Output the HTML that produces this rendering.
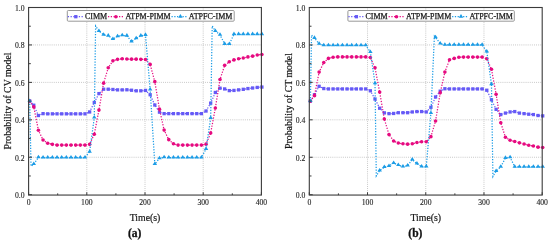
<!DOCTYPE html>
<html><head><meta charset="utf-8"><style>
html,body{margin:0;padding:0;background:#fff;}
svg{display:block;}
text{font-family:"Liberation Serif","Times New Roman",serif;fill:#222;}
.tl{font-size:7.7px;fill:#2a2a2a;stroke:#2a2a2a;stroke-width:0.14px;}
.lg{font-size:8px;fill:#1a1a1a;stroke:#1a1a1a;stroke-width:0.25px;}
.at{font-size:9.8px;fill:#161616;stroke:#161616;stroke-width:0.2px;}
.sub{font-size:11.5px;font-weight:bold;fill:#111;stroke:#111;stroke-width:0.3px;}
</style></head><body>
<svg width="550" height="242" viewBox="0 0 550 242">
<rect width="550" height="242" fill="#fff"/>
<g stroke="#bcbcbc" stroke-width="0.9" stroke-dasharray="0.9 1.2"><line x1="86.80" y1="7.50" x2="86.80" y2="194.70"/><line x1="145.00" y1="7.50" x2="145.00" y2="194.70"/><line x1="203.20" y1="7.50" x2="203.20" y2="194.70"/><line x1="28.60" y1="157.26" x2="261.40" y2="157.26"/><line x1="28.60" y1="119.82" x2="261.40" y2="119.82"/><line x1="28.60" y1="82.38" x2="261.40" y2="82.38"/><line x1="28.60" y1="44.94" x2="261.40" y2="44.94"/></g>
<polyline points="29.70,101.10 33.76,105.22 38.41,115.51 43.07,113.64 47.72,113.83 52.38,113.83 57.04,113.83 61.69,113.83 66.35,113.83 71.00,113.83 75.66,113.83 80.32,113.83 84.97,113.83 89.63,111.96 94.28,102.50 98.94,93.61 103.60,89.21 108.25,89.21 112.91,89.49 117.56,89.87 122.22,89.87 126.88,89.77 131.53,90.24 136.19,90.80 140.84,90.80 145.50,90.43 150.16,94.74 154.81,105.03 159.47,112.14 164.12,113.64 168.78,113.64 173.44,113.64 178.09,113.64 182.75,113.64 187.40,113.64 192.06,113.64 196.72,113.64 201.37,113.64 206.03,111.02 210.68,103.16 215.34,92.49 220.00,88.18 224.65,88.93 229.31,90.62 233.96,90.43 238.62,89.87 243.28,89.31 247.93,88.56 252.59,88.00 257.24,87.43 261.90,87.06" fill="none" stroke="#6559f6" stroke-width="1.25" stroke-dasharray="1.25 1.5"/>
<g fill="#6559f6"><rect x="28.05" y="99.45" width="3.3" height="3.3"/><rect x="32.11" y="103.57" width="3.3" height="3.3"/><rect x="36.76" y="113.86" width="3.3" height="3.3"/><rect x="41.42" y="111.99" width="3.3" height="3.3"/><rect x="46.07" y="112.18" width="3.3" height="3.3"/><rect x="50.73" y="112.18" width="3.3" height="3.3"/><rect x="55.39" y="112.18" width="3.3" height="3.3"/><rect x="60.04" y="112.18" width="3.3" height="3.3"/><rect x="64.70" y="112.18" width="3.3" height="3.3"/><rect x="69.35" y="112.18" width="3.3" height="3.3"/><rect x="74.01" y="112.18" width="3.3" height="3.3"/><rect x="78.67" y="112.18" width="3.3" height="3.3"/><rect x="83.32" y="112.18" width="3.3" height="3.3"/><rect x="87.98" y="110.31" width="3.3" height="3.3"/><rect x="92.63" y="100.85" width="3.3" height="3.3"/><rect x="97.29" y="91.96" width="3.3" height="3.3"/><rect x="101.95" y="87.56" width="3.3" height="3.3"/><rect x="106.60" y="87.56" width="3.3" height="3.3"/><rect x="111.26" y="87.84" width="3.3" height="3.3"/><rect x="115.91" y="88.22" width="3.3" height="3.3"/><rect x="120.57" y="88.22" width="3.3" height="3.3"/><rect x="125.23" y="88.12" width="3.3" height="3.3"/><rect x="129.88" y="88.59" width="3.3" height="3.3"/><rect x="134.54" y="89.15" width="3.3" height="3.3"/><rect x="139.19" y="89.15" width="3.3" height="3.3"/><rect x="143.85" y="88.78" width="3.3" height="3.3"/><rect x="148.51" y="93.09" width="3.3" height="3.3"/><rect x="153.16" y="103.38" width="3.3" height="3.3"/><rect x="157.82" y="110.49" width="3.3" height="3.3"/><rect x="162.47" y="111.99" width="3.3" height="3.3"/><rect x="167.13" y="111.99" width="3.3" height="3.3"/><rect x="171.79" y="111.99" width="3.3" height="3.3"/><rect x="176.44" y="111.99" width="3.3" height="3.3"/><rect x="181.10" y="111.99" width="3.3" height="3.3"/><rect x="185.75" y="111.99" width="3.3" height="3.3"/><rect x="190.41" y="111.99" width="3.3" height="3.3"/><rect x="195.07" y="111.99" width="3.3" height="3.3"/><rect x="199.72" y="111.99" width="3.3" height="3.3"/><rect x="204.38" y="109.37" width="3.3" height="3.3"/><rect x="209.03" y="101.51" width="3.3" height="3.3"/><rect x="213.69" y="90.84" width="3.3" height="3.3"/><rect x="218.35" y="86.53" width="3.3" height="3.3"/><rect x="223.00" y="87.28" width="3.3" height="3.3"/><rect x="227.66" y="88.97" width="3.3" height="3.3"/><rect x="232.31" y="88.78" width="3.3" height="3.3"/><rect x="236.97" y="88.22" width="3.3" height="3.3"/><rect x="241.63" y="87.66" width="3.3" height="3.3"/><rect x="246.28" y="86.91" width="3.3" height="3.3"/><rect x="250.94" y="86.35" width="3.3" height="3.3"/><rect x="255.59" y="85.78" width="3.3" height="3.3"/><rect x="260.25" y="85.41" width="3.3" height="3.3"/></g>
<polyline points="29.70,101.10 33.76,106.90 38.41,130.30 43.07,140.04 47.72,143.22 52.38,144.34 57.04,145.09 61.69,145.09 66.35,145.09 71.00,145.09 75.66,145.09 80.32,145.09 84.97,145.09 89.63,144.34 94.28,134.23 98.94,110.09 103.60,83.13 108.25,67.78 112.91,60.85 117.56,59.35 122.22,58.79 126.88,58.98 131.53,59.17 136.19,59.17 140.84,59.35 145.50,59.54 150.16,64.41 154.81,81.63 159.47,109.15 164.12,130.12 168.78,139.66 173.44,143.78 178.09,145.09 182.75,145.09 187.40,145.09 192.06,145.09 196.72,145.09 201.37,145.09 206.03,144.16 210.68,133.11 215.34,108.03 220.00,79.57 224.65,65.34 229.31,61.79 233.96,59.92 238.62,58.79 243.28,58.04 247.93,56.92 252.59,56.17 257.24,55.05 261.90,54.49" fill="none" stroke="#e60a80" stroke-width="1.25" stroke-dasharray="1.25 1.5"/>
<g fill="#e60a80"><circle cx="29.70" cy="101.10" r="1.8"/><circle cx="33.76" cy="106.90" r="1.8"/><circle cx="38.41" cy="130.30" r="1.8"/><circle cx="43.07" cy="140.04" r="1.8"/><circle cx="47.72" cy="143.22" r="1.8"/><circle cx="52.38" cy="144.34" r="1.8"/><circle cx="57.04" cy="145.09" r="1.8"/><circle cx="61.69" cy="145.09" r="1.8"/><circle cx="66.35" cy="145.09" r="1.8"/><circle cx="71.00" cy="145.09" r="1.8"/><circle cx="75.66" cy="145.09" r="1.8"/><circle cx="80.32" cy="145.09" r="1.8"/><circle cx="84.97" cy="145.09" r="1.8"/><circle cx="89.63" cy="144.34" r="1.8"/><circle cx="94.28" cy="134.23" r="1.8"/><circle cx="98.94" cy="110.09" r="1.8"/><circle cx="103.60" cy="83.13" r="1.8"/><circle cx="108.25" cy="67.78" r="1.8"/><circle cx="112.91" cy="60.85" r="1.8"/><circle cx="117.56" cy="59.35" r="1.8"/><circle cx="122.22" cy="58.79" r="1.8"/><circle cx="126.88" cy="58.98" r="1.8"/><circle cx="131.53" cy="59.17" r="1.8"/><circle cx="136.19" cy="59.17" r="1.8"/><circle cx="140.84" cy="59.35" r="1.8"/><circle cx="145.50" cy="59.54" r="1.8"/><circle cx="150.16" cy="64.41" r="1.8"/><circle cx="154.81" cy="81.63" r="1.8"/><circle cx="159.47" cy="109.15" r="1.8"/><circle cx="164.12" cy="130.12" r="1.8"/><circle cx="168.78" cy="139.66" r="1.8"/><circle cx="173.44" cy="143.78" r="1.8"/><circle cx="178.09" cy="145.09" r="1.8"/><circle cx="182.75" cy="145.09" r="1.8"/><circle cx="187.40" cy="145.09" r="1.8"/><circle cx="192.06" cy="145.09" r="1.8"/><circle cx="196.72" cy="145.09" r="1.8"/><circle cx="201.37" cy="145.09" r="1.8"/><circle cx="206.03" cy="144.16" r="1.8"/><circle cx="210.68" cy="133.11" r="1.8"/><circle cx="215.34" cy="108.03" r="1.8"/><circle cx="220.00" cy="79.57" r="1.8"/><circle cx="224.65" cy="65.34" r="1.8"/><circle cx="229.31" cy="61.79" r="1.8"/><circle cx="233.96" cy="59.92" r="1.8"/><circle cx="238.62" cy="58.79" r="1.8"/><circle cx="243.28" cy="58.04" r="1.8"/><circle cx="247.93" cy="56.92" r="1.8"/><circle cx="252.59" cy="56.17" r="1.8"/><circle cx="257.24" cy="55.05" r="1.8"/><circle cx="261.90" cy="54.49" r="1.8"/></g>
<polyline points="29.70,101.10 31.02,166.25 33.76,164.19 38.41,157.45 43.07,157.54 47.72,157.54 52.38,157.54 57.04,157.54 61.69,157.54 66.35,157.54 71.00,157.54 75.66,157.54 80.32,157.54 84.97,157.54 89.63,151.83 94.28,117.57 95.62,26.03 98.94,31.09 103.60,34.83 108.25,35.77 112.91,39.14 117.56,36.33 122.22,35.39 126.88,35.77 131.53,41.57 136.19,38.39 140.84,35.77 145.50,35.02 150.16,89.68 154.81,164.19 159.47,158.38 164.12,157.45 168.78,157.54 173.44,157.54 178.09,157.54 182.75,157.54 187.40,157.54 192.06,157.54 196.72,157.54 201.37,157.54 206.03,149.02 210.68,118.14 212.20,25.85 215.34,31.09 220.00,34.83 224.65,44.00 229.31,44.19 233.96,34.27 238.62,34.27 243.28,34.27 247.93,34.27 252.59,34.27 257.24,34.27 261.90,34.27" fill="none" stroke="#1b9ce6" stroke-width="1.25" stroke-dasharray="1.25 1.5"/>
<g fill="#1b9ce6"><path d="M29.70 98.45L31.95 102.00L27.45 102.00Z"/><path d="M33.76 161.54L36.01 165.09L31.51 165.09Z"/><path d="M38.41 154.80L40.66 158.35L36.16 158.35Z"/><path d="M43.07 154.89L45.32 158.44L40.82 158.44Z"/><path d="M47.72 154.89L49.97 158.44L45.47 158.44Z"/><path d="M52.38 154.89L54.63 158.44L50.13 158.44Z"/><path d="M57.04 154.89L59.29 158.44L54.79 158.44Z"/><path d="M61.69 154.89L63.94 158.44L59.44 158.44Z"/><path d="M66.35 154.89L68.60 158.44L64.10 158.44Z"/><path d="M71.00 154.89L73.25 158.44L68.75 158.44Z"/><path d="M75.66 154.89L77.91 158.44L73.41 158.44Z"/><path d="M80.32 154.89L82.57 158.44L78.07 158.44Z"/><path d="M84.97 154.89L87.22 158.44L82.72 158.44Z"/><path d="M89.63 149.18L91.88 152.73L87.38 152.73Z"/><path d="M94.28 114.92L96.53 118.47L92.03 118.47Z"/><path d="M98.94 28.44L101.19 31.99L96.69 31.99Z"/><path d="M103.60 32.18L105.85 35.73L101.35 35.73Z"/><path d="M108.25 33.12L110.50 36.67L106.00 36.67Z"/><path d="M112.91 36.49L115.16 40.04L110.66 40.04Z"/><path d="M117.56 33.68L119.81 37.23L115.31 37.23Z"/><path d="M122.22 32.74L124.47 36.29L119.97 36.29Z"/><path d="M126.88 33.12L129.13 36.67L124.63 36.67Z"/><path d="M131.53 38.92L133.78 42.47L129.28 42.47Z"/><path d="M136.19 35.74L138.44 39.29L133.94 39.29Z"/><path d="M140.84 33.12L143.09 36.67L138.59 36.67Z"/><path d="M145.50 32.37L147.75 35.92L143.25 35.92Z"/><path d="M150.16 87.03L152.41 90.58L147.91 90.58Z"/><path d="M154.81 161.54L157.06 165.09L152.56 165.09Z"/><path d="M159.47 155.73L161.72 159.28L157.22 159.28Z"/><path d="M164.12 154.80L166.37 158.35L161.87 158.35Z"/><path d="M168.78 154.89L171.03 158.44L166.53 158.44Z"/><path d="M173.44 154.89L175.69 158.44L171.19 158.44Z"/><path d="M178.09 154.89L180.34 158.44L175.84 158.44Z"/><path d="M182.75 154.89L185.00 158.44L180.50 158.44Z"/><path d="M187.40 154.89L189.65 158.44L185.15 158.44Z"/><path d="M192.06 154.89L194.31 158.44L189.81 158.44Z"/><path d="M196.72 154.89L198.97 158.44L194.47 158.44Z"/><path d="M201.37 154.89L203.62 158.44L199.12 158.44Z"/><path d="M206.03 146.37L208.28 149.92L203.78 149.92Z"/><path d="M210.68 115.49L212.93 119.04L208.43 119.04Z"/><path d="M215.34 28.44L217.59 31.99L213.09 31.99Z"/><path d="M220.00 32.18L222.25 35.73L217.75 35.73Z"/><path d="M224.65 41.35L226.90 44.90L222.40 44.90Z"/><path d="M229.31 41.54L231.56 45.09L227.06 45.09Z"/><path d="M233.96 31.62L236.21 35.17L231.71 35.17Z"/><path d="M238.62 31.62L240.87 35.17L236.37 35.17Z"/><path d="M243.28 31.62L245.53 35.17L241.03 35.17Z"/><path d="M247.93 31.62L250.18 35.17L245.68 35.17Z"/><path d="M252.59 31.62L254.84 35.17L250.34 35.17Z"/><path d="M257.24 31.62L259.49 35.17L254.99 35.17Z"/><path d="M261.90 31.62L264.15 35.17L259.65 35.17Z"/></g>
<rect x="67.30" y="10.50" width="166.90" height="10.70" rx="1" fill="#fff" stroke="#8c8c8c" stroke-width="0.9"/>
<line x1="67.80" y1="16.70" x2="83.10" y2="16.70" stroke="#6559f6" stroke-width="1.25" stroke-dasharray="1.25 1.5"/>
<rect x="74.15" y="15.05" width="3.3" height="3.3" fill="#6559f6"/>
<text x="84.90" y="19.40" class="lg">CIMM</text>
<line x1="108.00" y1="16.70" x2="123.50" y2="16.70" stroke="#e60a80" stroke-width="1.25" stroke-dasharray="1.25 1.5"/>
<circle cx="115.90" cy="16.70" r="1.8" fill="#e60a80"/>
<text x="125.40" y="19.40" class="lg">ATPM-PIMM</text>
<line x1="171.50" y1="16.70" x2="187.60" y2="16.70" stroke="#1b9ce6" stroke-width="1.25" stroke-dasharray="1.25 1.5"/>
<path d="M180.40 14.10L182.65 17.65L178.15 17.65Z" fill="#1b9ce6"/>
<text x="188.80" y="19.40" class="lg">ATPFC-IMM</text>
<rect x="28.60" y="7.50" width="232.80" height="187.55" fill="none" stroke="#3a3a3a" stroke-width="1.1"/>
<g stroke="#3a3a3a" stroke-width="1"><line x1="28.60" y1="195.05" x2="28.60" y2="192.25"/><line x1="57.70" y1="195.05" x2="57.70" y2="193.35"/><line x1="86.80" y1="195.05" x2="86.80" y2="192.25"/><line x1="115.90" y1="195.05" x2="115.90" y2="193.35"/><line x1="145.00" y1="195.05" x2="145.00" y2="192.25"/><line x1="174.10" y1="195.05" x2="174.10" y2="193.35"/><line x1="203.20" y1="195.05" x2="203.20" y2="192.25"/><line x1="232.30" y1="195.05" x2="232.30" y2="193.35"/><line x1="261.40" y1="195.05" x2="261.40" y2="192.25"/><line x1="28.60" y1="194.70" x2="32.00" y2="194.70"/><line x1="28.60" y1="175.98" x2="30.80" y2="175.98"/><line x1="28.60" y1="157.26" x2="32.00" y2="157.26"/><line x1="28.60" y1="138.54" x2="30.80" y2="138.54"/><line x1="28.60" y1="119.82" x2="32.00" y2="119.82"/><line x1="28.60" y1="101.10" x2="30.80" y2="101.10"/><line x1="28.60" y1="82.38" x2="32.00" y2="82.38"/><line x1="28.60" y1="63.66" x2="30.80" y2="63.66"/><line x1="28.60" y1="44.94" x2="32.00" y2="44.94"/><line x1="28.60" y1="26.22" x2="30.80" y2="26.22"/><line x1="28.60" y1="7.50" x2="32.00" y2="7.50"/></g>
<text x="28.60" y="205.10" class="tl" text-anchor="middle">0</text>
<text x="86.80" y="205.10" class="tl" text-anchor="middle">100</text>
<text x="145.00" y="205.10" class="tl" text-anchor="middle">200</text>
<text x="203.20" y="205.10" class="tl" text-anchor="middle">300</text>
<text x="261.40" y="205.10" class="tl" text-anchor="middle">400</text>
<text x="24.60" y="198.10" class="tl" text-anchor="end">0.0</text>
<text x="24.60" y="160.66" class="tl" text-anchor="end">0.2</text>
<text x="24.60" y="123.22" class="tl" text-anchor="end">0.4</text>
<text x="24.60" y="85.78" class="tl" text-anchor="end">0.6</text>
<text x="24.60" y="48.34" class="tl" text-anchor="end">0.8</text>
<text x="24.60" y="10.90" class="tl" text-anchor="end">1.0</text>
<text x="145.00" y="221.00" class="at" text-anchor="middle">Time(s)</text>
<text x="134.60" y="236.70" class="sub" text-anchor="middle">(a)</text>
<text transform="translate(10.80,101.00) rotate(-90)" class="at" text-anchor="middle">Probability of CV model</text>
<g stroke="#bcbcbc" stroke-width="0.9" stroke-dasharray="0.9 1.2"><line x1="367.53" y1="7.50" x2="367.53" y2="194.70"/><line x1="425.75" y1="7.50" x2="425.75" y2="194.70"/><line x1="483.98" y1="7.50" x2="483.98" y2="194.70"/><line x1="309.30" y1="157.26" x2="542.20" y2="157.26"/><line x1="309.30" y1="119.82" x2="542.20" y2="119.82"/><line x1="309.30" y1="82.38" x2="542.20" y2="82.38"/><line x1="309.30" y1="44.94" x2="542.20" y2="44.94"/></g>
<polyline points="310.40,101.10 314.46,94.74 319.12,86.31 323.77,88.56 328.43,88.93 333.09,88.93 337.75,88.93 342.41,88.93 347.06,88.93 351.72,88.93 356.38,88.93 361.04,88.93 365.70,88.93 370.35,90.80 375.01,99.04 379.67,108.21 384.33,112.89 388.99,113.64 393.64,113.46 398.30,112.71 402.96,112.71 407.62,112.71 412.28,111.96 416.93,111.58 421.59,111.58 426.25,111.96 430.91,107.28 435.57,96.98 440.22,91.18 444.88,88.74 449.54,88.93 454.20,88.93 458.86,88.93 463.51,88.93 468.17,88.93 472.83,88.93 477.49,88.93 482.15,88.93 486.80,90.24 491.46,99.79 496.12,109.34 500.78,114.58 505.44,113.08 510.09,111.96 514.75,111.58 519.41,113.08 524.07,113.64 528.73,114.20 533.38,114.58 538.04,115.51 542.70,115.89" fill="none" stroke="#6559f6" stroke-width="1.25" stroke-dasharray="1.25 1.5"/>
<g fill="#6559f6"><rect x="308.75" y="99.45" width="3.3" height="3.3"/><rect x="312.81" y="93.09" width="3.3" height="3.3"/><rect x="317.47" y="84.66" width="3.3" height="3.3"/><rect x="322.12" y="86.91" width="3.3" height="3.3"/><rect x="326.78" y="87.28" width="3.3" height="3.3"/><rect x="331.44" y="87.28" width="3.3" height="3.3"/><rect x="336.10" y="87.28" width="3.3" height="3.3"/><rect x="340.76" y="87.28" width="3.3" height="3.3"/><rect x="345.41" y="87.28" width="3.3" height="3.3"/><rect x="350.07" y="87.28" width="3.3" height="3.3"/><rect x="354.73" y="87.28" width="3.3" height="3.3"/><rect x="359.39" y="87.28" width="3.3" height="3.3"/><rect x="364.05" y="87.28" width="3.3" height="3.3"/><rect x="368.70" y="89.15" width="3.3" height="3.3"/><rect x="373.36" y="97.39" width="3.3" height="3.3"/><rect x="378.02" y="106.56" width="3.3" height="3.3"/><rect x="382.68" y="111.24" width="3.3" height="3.3"/><rect x="387.34" y="111.99" width="3.3" height="3.3"/><rect x="391.99" y="111.81" width="3.3" height="3.3"/><rect x="396.65" y="111.06" width="3.3" height="3.3"/><rect x="401.31" y="111.06" width="3.3" height="3.3"/><rect x="405.97" y="111.06" width="3.3" height="3.3"/><rect x="410.63" y="110.31" width="3.3" height="3.3"/><rect x="415.28" y="109.93" width="3.3" height="3.3"/><rect x="419.94" y="109.93" width="3.3" height="3.3"/><rect x="424.60" y="110.31" width="3.3" height="3.3"/><rect x="429.26" y="105.63" width="3.3" height="3.3"/><rect x="433.92" y="95.33" width="3.3" height="3.3"/><rect x="438.57" y="89.53" width="3.3" height="3.3"/><rect x="443.23" y="87.09" width="3.3" height="3.3"/><rect x="447.89" y="87.28" width="3.3" height="3.3"/><rect x="452.55" y="87.28" width="3.3" height="3.3"/><rect x="457.21" y="87.28" width="3.3" height="3.3"/><rect x="461.86" y="87.28" width="3.3" height="3.3"/><rect x="466.52" y="87.28" width="3.3" height="3.3"/><rect x="471.18" y="87.28" width="3.3" height="3.3"/><rect x="475.84" y="87.28" width="3.3" height="3.3"/><rect x="480.50" y="87.28" width="3.3" height="3.3"/><rect x="485.15" y="88.59" width="3.3" height="3.3"/><rect x="489.81" y="98.14" width="3.3" height="3.3"/><rect x="494.47" y="107.69" width="3.3" height="3.3"/><rect x="499.13" y="112.93" width="3.3" height="3.3"/><rect x="503.79" y="111.43" width="3.3" height="3.3"/><rect x="508.44" y="110.31" width="3.3" height="3.3"/><rect x="513.10" y="109.93" width="3.3" height="3.3"/><rect x="517.76" y="111.43" width="3.3" height="3.3"/><rect x="522.42" y="111.99" width="3.3" height="3.3"/><rect x="527.08" y="112.55" width="3.3" height="3.3"/><rect x="531.73" y="112.93" width="3.3" height="3.3"/><rect x="536.39" y="113.86" width="3.3" height="3.3"/><rect x="541.05" y="114.24" width="3.3" height="3.3"/></g>
<polyline points="310.40,101.10 314.46,95.67 319.12,72.08 323.77,62.54 328.43,58.42 333.09,57.30 337.75,56.92 342.41,56.92 347.06,56.92 351.72,56.92 356.38,56.92 361.04,56.92 365.70,56.92 370.35,57.48 375.01,67.78 379.67,92.11 384.33,119.07 388.99,134.61 393.64,140.97 398.30,143.03 402.96,143.78 407.62,144.16 412.28,143.78 416.93,142.47 421.59,141.72 426.25,141.72 430.91,136.67 435.57,120.94 440.22,92.86 444.88,72.08 449.54,59.73 454.20,58.42 458.86,57.30 463.51,57.11 468.17,57.11 472.83,57.11 477.49,57.11 482.15,57.11 486.80,58.79 491.46,69.28 496.12,94.36 500.78,122.82 505.44,137.23 510.09,140.22 514.75,141.54 519.41,142.85 524.07,143.97 528.73,145.28 533.38,146.03 538.04,147.15 542.70,147.53" fill="none" stroke="#e60a80" stroke-width="1.25" stroke-dasharray="1.25 1.5"/>
<g fill="#e60a80"><circle cx="310.40" cy="101.10" r="1.8"/><circle cx="314.46" cy="95.67" r="1.8"/><circle cx="319.12" cy="72.08" r="1.8"/><circle cx="323.77" cy="62.54" r="1.8"/><circle cx="328.43" cy="58.42" r="1.8"/><circle cx="333.09" cy="57.30" r="1.8"/><circle cx="337.75" cy="56.92" r="1.8"/><circle cx="342.41" cy="56.92" r="1.8"/><circle cx="347.06" cy="56.92" r="1.8"/><circle cx="351.72" cy="56.92" r="1.8"/><circle cx="356.38" cy="56.92" r="1.8"/><circle cx="361.04" cy="56.92" r="1.8"/><circle cx="365.70" cy="56.92" r="1.8"/><circle cx="370.35" cy="57.48" r="1.8"/><circle cx="375.01" cy="67.78" r="1.8"/><circle cx="379.67" cy="92.11" r="1.8"/><circle cx="384.33" cy="119.07" r="1.8"/><circle cx="388.99" cy="134.61" r="1.8"/><circle cx="393.64" cy="140.97" r="1.8"/><circle cx="398.30" cy="143.03" r="1.8"/><circle cx="402.96" cy="143.78" r="1.8"/><circle cx="407.62" cy="144.16" r="1.8"/><circle cx="412.28" cy="143.78" r="1.8"/><circle cx="416.93" cy="142.47" r="1.8"/><circle cx="421.59" cy="141.72" r="1.8"/><circle cx="426.25" cy="141.72" r="1.8"/><circle cx="430.91" cy="136.67" r="1.8"/><circle cx="435.57" cy="120.94" r="1.8"/><circle cx="440.22" cy="92.86" r="1.8"/><circle cx="444.88" cy="72.08" r="1.8"/><circle cx="449.54" cy="59.73" r="1.8"/><circle cx="454.20" cy="58.42" r="1.8"/><circle cx="458.86" cy="57.30" r="1.8"/><circle cx="463.51" cy="57.11" r="1.8"/><circle cx="468.17" cy="57.11" r="1.8"/><circle cx="472.83" cy="57.11" r="1.8"/><circle cx="477.49" cy="57.11" r="1.8"/><circle cx="482.15" cy="57.11" r="1.8"/><circle cx="486.80" cy="58.79" r="1.8"/><circle cx="491.46" cy="69.28" r="1.8"/><circle cx="496.12" cy="94.36" r="1.8"/><circle cx="500.78" cy="122.82" r="1.8"/><circle cx="505.44" cy="137.23" r="1.8"/><circle cx="510.09" cy="140.22" r="1.8"/><circle cx="514.75" cy="141.54" r="1.8"/><circle cx="519.41" cy="142.85" r="1.8"/><circle cx="524.07" cy="143.97" r="1.8"/><circle cx="528.73" cy="145.28" r="1.8"/><circle cx="533.38" cy="146.03" r="1.8"/><circle cx="538.04" cy="147.15" r="1.8"/><circle cx="542.70" cy="147.53" r="1.8"/></g>
<polyline points="310.40,101.10 311.55,35.21 314.46,38.01 319.12,43.82 323.77,45.31 328.43,45.31 333.09,45.31 337.75,45.31 342.41,45.31 347.06,45.31 351.72,45.31 356.38,45.31 361.04,45.31 365.70,45.31 370.35,52.05 375.01,83.32 376.29,175.98 379.67,170.55 384.33,167.18 388.99,166.06 393.64,163.06 398.30,165.12 402.96,166.62 407.62,165.68 412.28,159.69 416.93,163.62 421.59,166.62 426.25,166.62 430.91,113.08 434.40,36.14 435.57,37.45 440.22,43.63 444.88,44.94 449.54,44.94 454.20,44.94 458.86,44.94 463.51,44.94 468.17,44.94 472.83,44.94 477.49,44.94 482.15,44.94 486.80,51.68 491.46,84.25 492.92,176.54 496.12,171.11 500.78,166.81 505.44,158.01 510.09,157.45 514.75,166.81 519.41,166.81 524.07,166.81 528.73,166.81 533.38,166.81 538.04,166.81 542.70,166.81" fill="none" stroke="#1b9ce6" stroke-width="1.25" stroke-dasharray="1.25 1.5"/>
<g fill="#1b9ce6"><path d="M310.40 98.45L312.65 102.00L308.15 102.00Z"/><path d="M314.46 35.36L316.71 38.91L312.21 38.91Z"/><path d="M319.12 41.17L321.37 44.72L316.87 44.72Z"/><path d="M323.77 42.66L326.02 46.21L321.52 46.21Z"/><path d="M328.43 42.66L330.68 46.21L326.18 46.21Z"/><path d="M333.09 42.66L335.34 46.21L330.84 46.21Z"/><path d="M337.75 42.66L340.00 46.21L335.50 46.21Z"/><path d="M342.41 42.66L344.66 46.21L340.16 46.21Z"/><path d="M347.06 42.66L349.31 46.21L344.81 46.21Z"/><path d="M351.72 42.66L353.97 46.21L349.47 46.21Z"/><path d="M356.38 42.66L358.63 46.21L354.13 46.21Z"/><path d="M361.04 42.66L363.29 46.21L358.79 46.21Z"/><path d="M365.70 42.66L367.95 46.21L363.45 46.21Z"/><path d="M370.35 49.40L372.60 52.95L368.10 52.95Z"/><path d="M375.01 80.67L377.26 84.22L372.76 84.22Z"/><path d="M379.67 167.90L381.92 171.45L377.42 171.45Z"/><path d="M384.33 164.53L386.58 168.08L382.08 168.08Z"/><path d="M388.99 163.41L391.24 166.96L386.74 166.96Z"/><path d="M393.64 160.41L395.89 163.96L391.39 163.96Z"/><path d="M398.30 162.47L400.55 166.02L396.05 166.02Z"/><path d="M402.96 163.97L405.21 167.52L400.71 167.52Z"/><path d="M407.62 163.03L409.87 166.58L405.37 166.58Z"/><path d="M412.28 157.04L414.53 160.59L410.03 160.59Z"/><path d="M416.93 160.97L419.18 164.52L414.68 164.52Z"/><path d="M421.59 163.97L423.84 167.52L419.34 167.52Z"/><path d="M426.25 163.97L428.50 167.52L424.00 167.52Z"/><path d="M430.91 110.43L433.16 113.98L428.66 113.98Z"/><path d="M435.57 34.80L437.82 38.35L433.32 38.35Z"/><path d="M440.22 40.98L442.47 44.53L437.97 44.53Z"/><path d="M444.88 42.29L447.13 45.84L442.63 45.84Z"/><path d="M449.54 42.29L451.79 45.84L447.29 45.84Z"/><path d="M454.20 42.29L456.45 45.84L451.95 45.84Z"/><path d="M458.86 42.29L461.11 45.84L456.61 45.84Z"/><path d="M463.51 42.29L465.76 45.84L461.26 45.84Z"/><path d="M468.17 42.29L470.42 45.84L465.92 45.84Z"/><path d="M472.83 42.29L475.08 45.84L470.58 45.84Z"/><path d="M477.49 42.29L479.74 45.84L475.24 45.84Z"/><path d="M482.15 42.29L484.40 45.84L479.90 45.84Z"/><path d="M486.80 49.03L489.05 52.58L484.55 52.58Z"/><path d="M491.46 81.60L493.71 85.15L489.21 85.15Z"/><path d="M496.12 168.46L498.37 172.01L493.87 172.01Z"/><path d="M500.78 164.16L503.03 167.71L498.53 167.71Z"/><path d="M505.44 155.36L507.69 158.91L503.19 158.91Z"/><path d="M510.09 154.80L512.34 158.35L507.84 158.35Z"/><path d="M514.75 164.16L517.00 167.71L512.50 167.71Z"/><path d="M519.41 164.16L521.66 167.71L517.16 167.71Z"/><path d="M524.07 164.16L526.32 167.71L521.82 167.71Z"/><path d="M528.73 164.16L530.98 167.71L526.48 167.71Z"/><path d="M533.38 164.16L535.63 167.71L531.13 167.71Z"/><path d="M538.04 164.16L540.29 167.71L535.79 167.71Z"/><path d="M542.70 164.16L544.95 167.71L540.45 167.71Z"/></g>
<rect x="347.90" y="10.50" width="166.40" height="10.70" rx="1" fill="#fff" stroke="#8c8c8c" stroke-width="0.9"/>
<line x1="348.40" y1="16.70" x2="363.70" y2="16.70" stroke="#6559f6" stroke-width="1.25" stroke-dasharray="1.25 1.5"/>
<rect x="354.75" y="15.05" width="3.3" height="3.3" fill="#6559f6"/>
<text x="365.50" y="19.40" class="lg">CIMM</text>
<line x1="388.60" y1="16.70" x2="404.10" y2="16.70" stroke="#e60a80" stroke-width="1.25" stroke-dasharray="1.25 1.5"/>
<circle cx="396.50" cy="16.70" r="1.8" fill="#e60a80"/>
<text x="406.00" y="19.40" class="lg">ATPM-PIMM</text>
<line x1="452.10" y1="16.70" x2="468.20" y2="16.70" stroke="#1b9ce6" stroke-width="1.25" stroke-dasharray="1.25 1.5"/>
<path d="M461.00 14.10L463.25 17.65L458.75 17.65Z" fill="#1b9ce6"/>
<text x="469.40" y="19.40" class="lg">ATPFC-IMM</text>
<rect x="309.30" y="7.50" width="232.90" height="187.55" fill="none" stroke="#3a3a3a" stroke-width="1.1"/>
<g stroke="#3a3a3a" stroke-width="1"><line x1="309.30" y1="195.05" x2="309.30" y2="192.25"/><line x1="338.41" y1="195.05" x2="338.41" y2="193.35"/><line x1="367.53" y1="195.05" x2="367.53" y2="192.25"/><line x1="396.64" y1="195.05" x2="396.64" y2="193.35"/><line x1="425.75" y1="195.05" x2="425.75" y2="192.25"/><line x1="454.86" y1="195.05" x2="454.86" y2="193.35"/><line x1="483.98" y1="195.05" x2="483.98" y2="192.25"/><line x1="513.09" y1="195.05" x2="513.09" y2="193.35"/><line x1="542.20" y1="195.05" x2="542.20" y2="192.25"/><line x1="309.30" y1="194.70" x2="312.70" y2="194.70"/><line x1="309.30" y1="175.98" x2="311.50" y2="175.98"/><line x1="309.30" y1="157.26" x2="312.70" y2="157.26"/><line x1="309.30" y1="138.54" x2="311.50" y2="138.54"/><line x1="309.30" y1="119.82" x2="312.70" y2="119.82"/><line x1="309.30" y1="101.10" x2="311.50" y2="101.10"/><line x1="309.30" y1="82.38" x2="312.70" y2="82.38"/><line x1="309.30" y1="63.66" x2="311.50" y2="63.66"/><line x1="309.30" y1="44.94" x2="312.70" y2="44.94"/><line x1="309.30" y1="26.22" x2="311.50" y2="26.22"/><line x1="309.30" y1="7.50" x2="312.70" y2="7.50"/></g>
<text x="309.30" y="205.10" class="tl" text-anchor="middle">0</text>
<text x="367.53" y="205.10" class="tl" text-anchor="middle">100</text>
<text x="425.75" y="205.10" class="tl" text-anchor="middle">200</text>
<text x="483.98" y="205.10" class="tl" text-anchor="middle">300</text>
<text x="542.20" y="205.10" class="tl" text-anchor="middle">400</text>
<text x="305.30" y="198.10" class="tl" text-anchor="end">0.0</text>
<text x="305.30" y="160.66" class="tl" text-anchor="end">0.2</text>
<text x="305.30" y="123.22" class="tl" text-anchor="end">0.4</text>
<text x="305.30" y="85.78" class="tl" text-anchor="end">0.6</text>
<text x="305.30" y="48.34" class="tl" text-anchor="end">0.8</text>
<text x="305.30" y="10.90" class="tl" text-anchor="end">1.0</text>
<text x="425.75" y="221.00" class="at" text-anchor="middle">Time(s)</text>
<text x="415.35" y="236.70" class="sub" text-anchor="middle">(b)</text>
<text transform="translate(291.50,101.00) rotate(-90)" class="at" text-anchor="middle">Probability of CT model</text>
</svg>
</body></html>
